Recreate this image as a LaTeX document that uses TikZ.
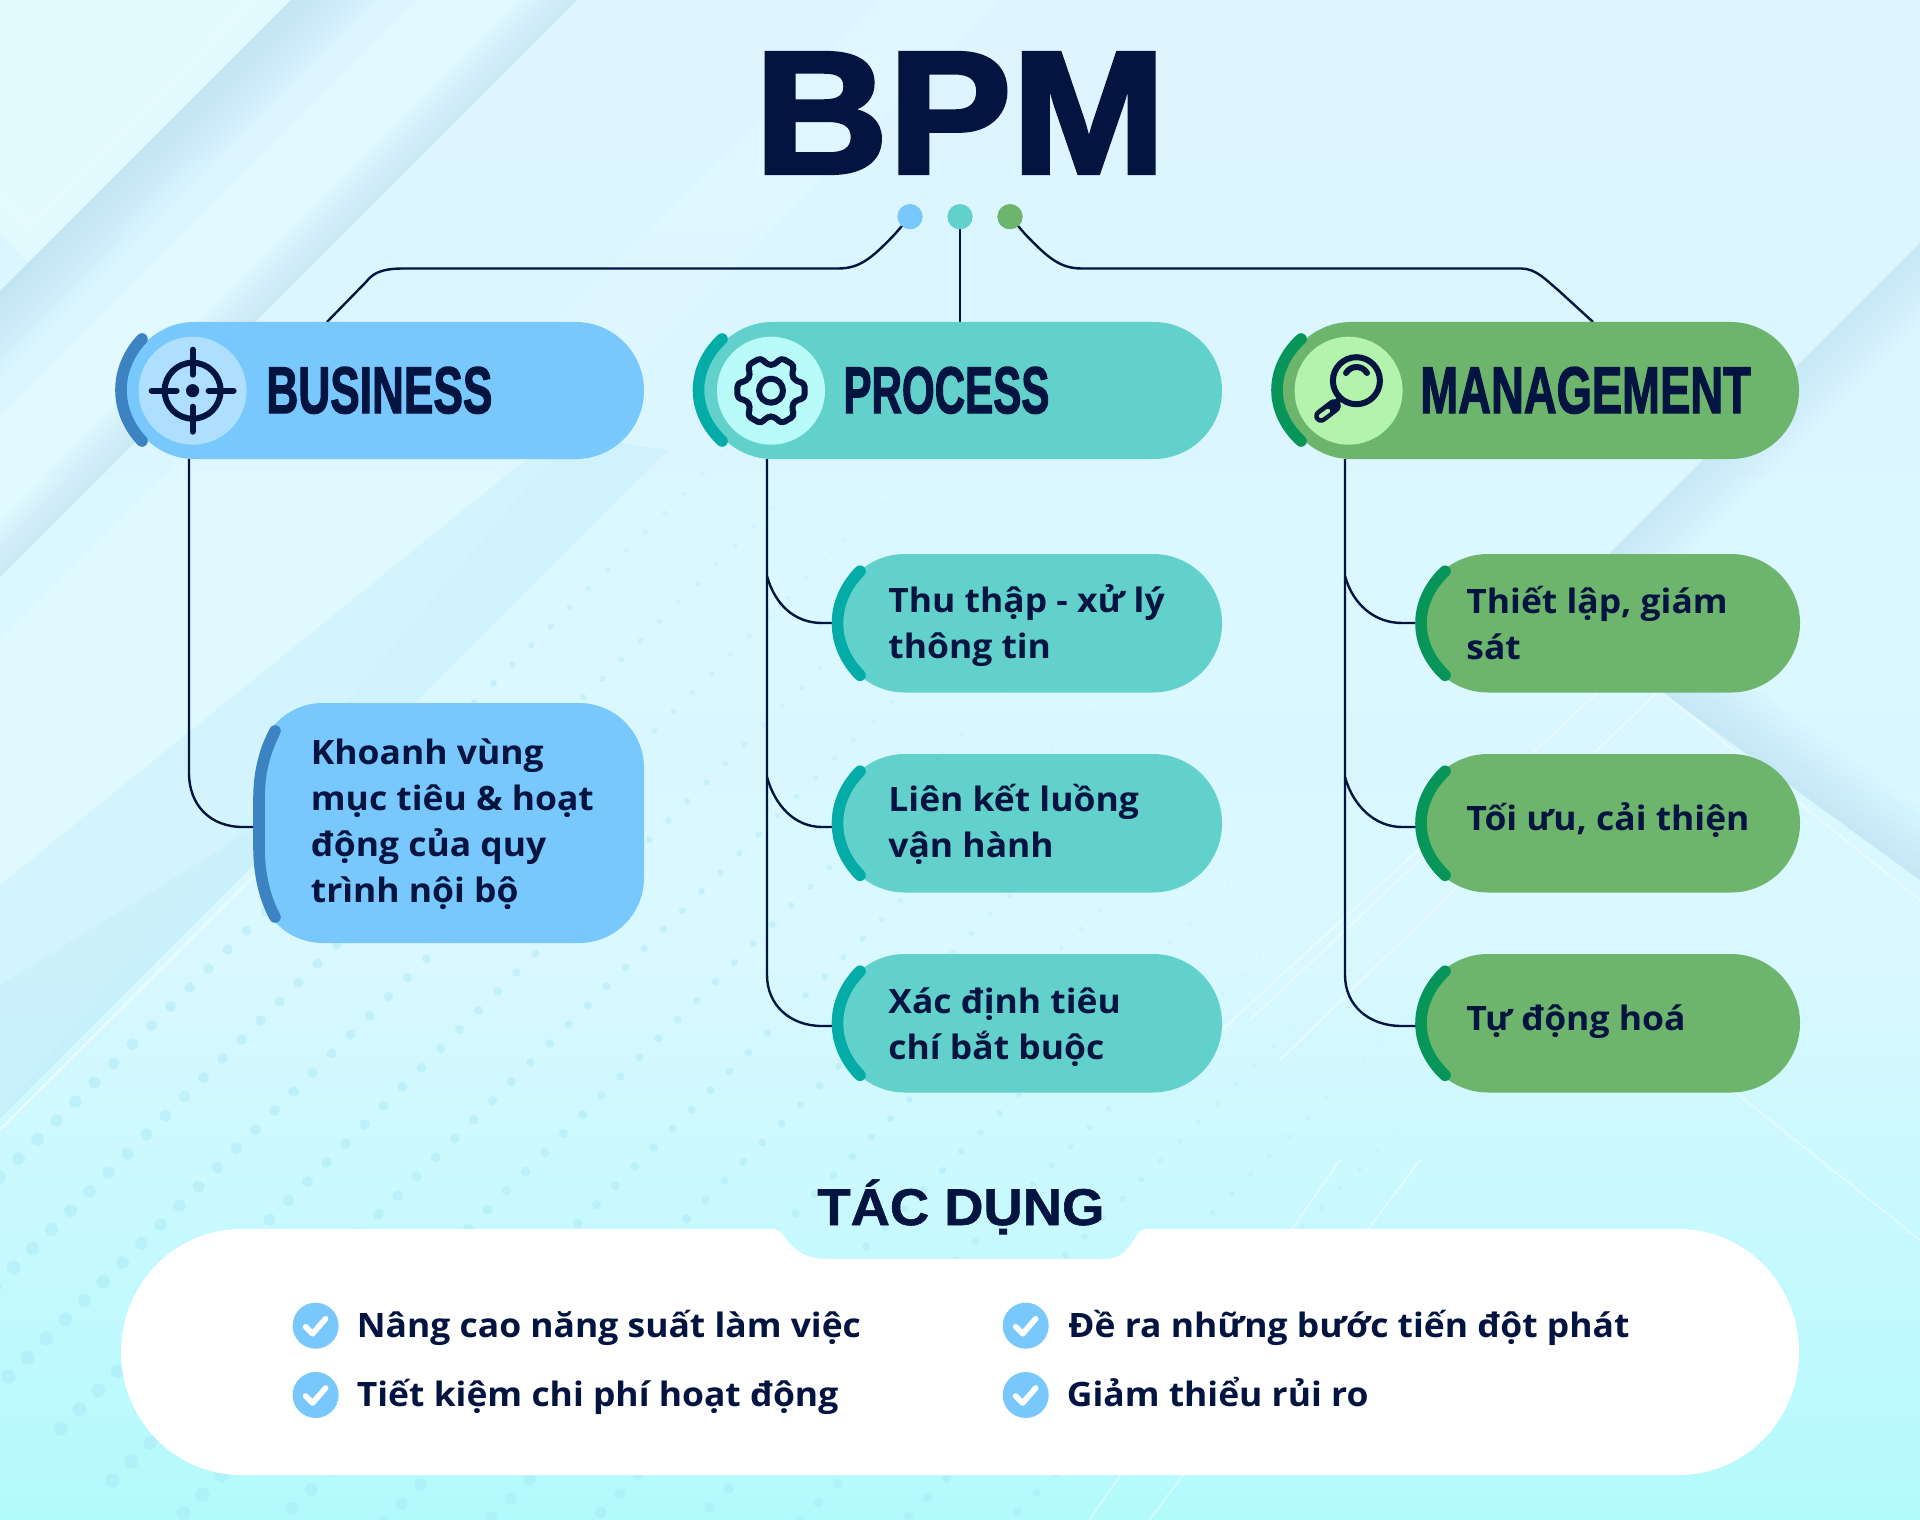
\documentclass[tikz,border=0pt]{standalone}
\usepackage{fontspec}
\usepackage{graphicx}
\setmainfont{Open Sans}[BoldFeatures={FakeStretch=1.055}]
\newfontfamily\headf{Liberation Sans}[BoldFeatures={FakeBold=2.2}]
\newfontfamily\titlef{Liberation Sans}[BoldFeatures={FakeBold=2.4}]
\newfontfamily\sectf{Liberation Sans}[BoldFeatures={FakeBold=1.1,FakeStretch=1.054}]
\definecolor{navy}{HTML}{02143F}
\definecolor{bluep}{HTML}{78C8FD}
\definecolor{bluea}{HTML}{3D82C1}
\definecolor{bluec}{HTML}{AEDFFE}
\definecolor{tealp}{HTML}{63D1CB}
\definecolor{teala}{HTML}{04ACA8}
\definecolor{tealc}{HTML}{B8FBF8}
\definecolor{greenp}{HTML}{6DB56C}
\definecolor{greena}{HTML}{08955A}
\definecolor{greenc}{HTML}{B4F3AB}
\definecolor{shadowc}{HTML}{9CCFEA}
\definecolor{lightc}{HTML}{E6FCFF}
\definecolor{dotc}{HTML}{A6E6F6}
\definecolor{bandc}{HTML}{B4E8F8}
\definecolor{bgtop}{HTML}{DCF5FF}
\definecolor{bgmid}{HTML}{DAF8FF}
\definecolor{bgbot}{HTML}{B3FAFC}
\tikzset{
  pill/.style={rectangle,inner sep=0pt,draw=none,anchor=center},
  conn/.style={draw=navy,line width=1.2pt},
  arcline/.style={line width=5.8pt,line cap=round},
  body/.style={inner sep=0pt,anchor=base west,text=navy,font=\fontsize{16.8}{23}\selectfont\bfseries},
  head/.style={inner sep=0pt,anchor=base west,text=navy},
  ico/.style={draw=navy,line width=3pt,line cap=round,line join=round},
  bullet/.style={circle,fill=bluep,inner sep=0pt,minimum size=23pt},
  tick/.style={draw=white,line width=2.8pt,line cap=round,line join=round},
  dotn/.style={circle,inner sep=0pt,minimum size=12.5pt},
  thin line/.style={white,opacity=.45,line width=.9pt},
}
\newcommand\vt[1]{\vtop{\baselineskip=23pt\lineskiplimit=-100pt\lineskip=0pt #1}}
\newcommand\larc[5]{%
  \pgfmathsetmacro\cxx{(8*#2-2*#3)/6}
  \draw[arcline,draw=#1] (#3,#4-#5) .. controls (\cxx,#4-#5*0.42) and (\cxx,#4+#5*0.42) .. (#3,#4+#5);
}
\begin{document}
\begin{tikzpicture}[x=0.5pt,y=-0.5pt]
\useasboundingbox (0,0) rectangle (1920,1519);
\clip (0,0) rectangle (1920,1519);
% background
\shade[top color=bgtop,bottom color=bgmid] (0,0) rectangle (1920,950);
\shade[top color=bgmid,bottom color=bgbot] (0,950) rectangle (1920,1519);
% top-left bright wedge
\fill[lightc,opacity=.75] (0,0) -- (291,0) -- (29,263) -- (0,232) -- cycle;
\draw[white,opacity=.5,line width=.5pt] (254,0) -- (29,226) -- (0,195);
% soft shadow beside it
\foreach \w in {8,16,...,88} {\fill[shadowc,opacity=.035] (291,0) -- (291+\w,0) -- (0,291+\w) -- (0,291) -- cycle;}
% second bright band with shadow along its right edge
\fill[lightc,opacity=.6] (417,0) -- (577,0) -- (0,577) -- (0,417) -- cycle;
\foreach \w in {6,12,...,60} {\fill[shadowc,opacity=.03] (577,0) -- (577-\w,0) -- (0,577-\w) -- (0,577) -- cycle;}
% pale upper-middle band, ending behind the first header pill
\fill[lightc,opacity=.3] (880,0) -- (1000,0) -- (600,400) -- (480,400) -- cycle;
% bright left area and darker band below it, both ending behind pills
\fill[lightc,opacity=.45] (0,640) -- (300,340) -- (600,400) -- (0,1115) -- cycle;
\fill[bandc,opacity=.28] (600,440) -- (668,450) -- (0,1118) -- (0,885) -- (525,460) -- cycle;
\fill[bandc,opacity=.22] (350,768) -- (0,1118) -- (0,985) -- (350,770) -- cycle;
\draw[white,opacity=.55,line width=1.2pt] (350,780) -- (0,1130);
% right side bands
\foreach \w in {8,16,...,80} {\fill[shadowc,opacity=.03] (1920,243) -- (1920,243+\w) -- (1560,603+\w) -- (1560,603) -- cycle;}
\foreach \w in {8,16,...,72} {\fill[shadowc,opacity=.035] (1659,690) -- (1920,880) -- (1920,880-\w) -- (1659,690-\w) -- cycle;}
\draw[thin line] (1659,690) -- (1920,900);
\draw[thin line] (1659,690) -- (1280,1060);
\draw[thin line] (1600,690) -- (1250,1020);
\draw[thin line] (1440,830) -- (1200,1050);
\draw[thin line] (1720,1080) -- (1920,1240);
\draw[thin line] (1150,1519) -- (1420,1160);
\draw[thin line] (1090,1519) -- (1340,1160);
% dot rows
\foreach \n in {0,...,13} {
  \pgfmathsetmacro\kk{1177+104*\n}
  \foreach \u in {380,342,...,-1400} {
    \pgfmathsetmacro\dx{(\kk+\u)/2}
    \pgfmathsetmacro\dy{(\kk-\u)/2}
    \pgfmathsetmacro\dr{max(1.3,3.5-(\u+223)*0.0032)}
    \pgfmathsetmacro\dop{min(.42,.12+(380-\u)*0.0005)}
    \fill[dotc,opacity=\dop] (\dx,\dy) circle[radius=\dr];
  }
}
% connector anchor points
\coordinate (bizTop) at (327,322);
\coordinate (mgtTop) at (1593,322);
\coordinate (prcTop) at (960,322);
\node[dotn,fill=bluep] (d1) at (910,216.7) {};
\node[dotn,fill=tealp] (d2) at (960,216.7) {};
\node[dotn,fill=greenp] (d3) at (1010,216.7) {};
\draw[conn] (d1.center) -- (895,234) .. controls (872,258) and (860,268.5) .. (838,268.5) -- (405,268.5) .. controls (388,268.5) and (375,270) .. (366,282) -- (bizTop);
\draw[conn] (d2.center) -- (prcTop);
\draw[conn] (d3.center) -- (1025,234) .. controls (1048,258) and (1060,268.5) .. (1082,268.5) -- (1521,268.5) .. controls (1536,268.5) and (1546,280) .. (1558,290) -- (mgtTop);
\node[dotn,fill=bluep] at (d1) {};
\node[dotn,fill=tealp] at (d2) {};
\node[dotn,fill=greenp] at (d3) {};
% named end points of the drops
\coordinate (bizDrop) at (189,459);
\coordinate (prcDrop) at (767,459);
\coordinate (mgtDrop) at (1345,459);
\coordinate (bizSub) at (253,827);
\foreach \y/\nm in {623/pa,827/pb,1026/pc} {\coordinate (\nm) at (834,\y);}
\foreach \y/\nm in {623/ma,827/mb,1026/mc} {\coordinate (\nm) at (1417,\y);}
\draw[conn] (bizDrop) -- (189,773) .. controls (189,805) and (210,827) .. (243,827) -- (bizSub);
\draw[conn] (prcDrop) -- (767,975) .. controls (767,1005) and (790,1026) .. (822,1026) -- (pc);
\draw[conn] (767,576) .. controls (775,605) and (795,623) .. (822,623) -- (pa);
\draw[conn] (767,777) .. controls (775,806) and (795,827) .. (822,827) -- (pb);
\draw[conn] (mgtDrop) -- (1345,975) .. controls (1345,1005) and (1368,1026) .. (1402,1026) -- (mc);
\draw[conn] (1345,576) .. controls (1353,605) and (1375,623) .. (1402,623) -- (ma);
\draw[conn] (1345,777) .. controls (1353,806) and (1375,827) .. (1402,827) -- (mb);
% title
\node[head,font=\titlef\bfseries] (title) at (754,173) {\resizebox{205.7pt}{60pt}{BPM}};
% header pills
\node[pill,fill=bluep,minimum width=259pt,minimum height=68.5pt,rounded corners=34.2pt] (biz) at (385,390.5) {};
\node[pill,fill=tealp,minimum width=259pt,minimum height=68.5pt,rounded corners=34.2pt] (prc) at (963,390.5) {};
\node[pill,fill=greenp,minimum width=258.25pt,minimum height=68.5pt,rounded corners=34.2pt] (mgt) at (1540.75,390.5) {};
\larc{bluea}{121}{142}{390}{51}
\larc{teala}{698.5}{722}{390}{51}
\larc{greena}{1277}{1301}{390}{51}
\node[circle,fill=bluec,minimum size=54pt,inner sep=0pt] (ic1) at (192.6,390.7) {};
\node[circle,fill=tealc,minimum size=54pt,inner sep=0pt] (ic2) at (771,390.7) {};
\node[circle,fill=greenc,minimum size=54pt,inner sep=0pt] (ic3) at (1348.6,390.7) {};
\node[head,font=\headf\bfseries] (h1) at (266,413) {\resizebox{113pt}{23pt}{BUSINESS}};
\node[head,font=\headf\bfseries] (h2) at (843,413) {\resizebox{103pt}{23pt}{PROCESS}};
\node[head,font=\headf\bfseries] (h3) at (1420,413) {\resizebox{165.2pt}{23pt}{MANAGEMENT}};
% target icon
\begin{scope}[shift={(192.6,390.7)}]
  \draw[ico] (0,0) circle[radius=28];
  \fill[navy] (0,0) circle[radius=6.6];
  \draw[ico] (-41,0) -- (-16,0) (16,0) -- (41,0) (0,-41) -- (0,-16) (0,16) -- (0,41);
\end{scope}
% gear icon
\begin{scope}[shift={(771,390.7)}]
  \draw[ico,rounded corners=2pt] (-22:26)
    -- (-13:34.5) -- (13:34.5) -- (22:26)
    -- (38:26) -- (47:34.5) -- (73:34.5) -- (82:26)
    -- (98:26) -- (107:34.5) -- (133:34.5) -- (142:26)
    -- (158:26) -- (167:34.5) -- (193:34.5) -- (202:26)
    -- (218:26) -- (227:34.5) -- (253:34.5) -- (262:26)
    -- (278:26) -- (287:34.5) -- (313:34.5) -- (322:26)
    -- cycle;
  \draw[ico] (0,0) circle[radius=12];
\end{scope}
% magnifier icon
\draw[ico] (1356.4,380.7) circle[radius=23.5];
\draw[ico] (1346,373) .. controls (1351,365) and (1362,365) .. (1367,373);
\draw[ico] (1340,398) -- (1335,405);
\draw[navy,line width=6.8pt,line cap=round] (1321,416) -- (1334,406);
\draw[greenc,line width=2.2pt,line cap=round] (1321,416) -- (1328,411);
% sub pills
\node[pill,fill=bluep,minimum width=193pt,minimum height=120pt,rounded corners=32.5pt] (s1) at (451,823) {};
\draw[arcline,draw=bluea] (275,731) .. controls (263,755) and (259,775) .. (259,800) -- (259,846) .. controls (259,870) and (263,895) .. (275,917);
\foreach \y/\nm in {623.25/a,823.25/b,1023.25/c} {
  \node[pill,fill=tealp,minimum width=193pt,minimum height=69.25pt,rounded corners=34.5pt] (t\nm) at (1029,\y) {};
  \larc{teala}{837.5}{860}{\y}{52}
  \node[pill,fill=greenp,minimum width=190.5pt,minimum height=69.25pt,rounded corners=34.5pt] (g\nm) at (1609.5,\y) {};
  \larc{greena}{1421}{1445}{\y}{52}
}
\node[body] (x1) at (310.5,764) {\vt{\hbox{Khoanh vùng}\hbox{mục tiêu \& hoạt}\hbox{động của quy}\hbox{trình nội bộ}}};
\node[body] (x2) at (888,612) {\vt{\hbox{Thu thập - xử lý}\hbox{thông tin}}};
\node[body] (x3) at (888,811) {\vt{\hbox{Liên kết luồng}\hbox{vận hành}}};
\node[body] (x4) at (888,1013) {\vt{\hbox{Xác định tiêu}\hbox{chí bắt buộc}}};
\node[body] (x5) at (1466,613) {\vt{\hbox{Thiết lập, giám}\hbox{sát}}};
\node[body] (x6) at (1466,830) {Tối ưu, cải thiện};
\node[body] (x7) at (1466,1030) {Tự động hoá};
% benefits panel
\fill[white] (241,1229) -- (775,1229) .. controls (785,1229) and (788,1259) .. (827,1259) -- (1105,1259) .. controls (1132,1259) and (1134,1229) .. (1145,1229) -- (1679,1229) .. controls (1745,1229) and (1799,1284) .. (1799,1352) .. controls (1799,1420) and (1745,1475) .. (1679,1475) -- (241,1475) .. controls (175,1475) and (121,1420) .. (121,1352) .. controls (121,1284) and (175,1229) .. (241,1229) -- cycle;
\node[head,font=\sectf\bfseries\fontsize{25.8}{30}\selectfont] (sec) at (817,1225) {TÁC DỤNG};
\foreach \x/\y/\nm in {315.6/1325.7/c1,315.6/1395/c2,1025.7/1325.7/c3,1025.7/1395/c4} {
  \node[bullet] (\nm) at (\x,\y) {};
  \draw[tick] (\x-10,\y+1) -- (\x-3,\y+8) -- (\x+10,\y-7);
}
\node[body] (b1) at (356.5,1337.5) {Nâng cao năng suất làm việc};
\node[body] (b2) at (356.5,1406.5) {Tiết kiệm chi phí hoạt động};
\node[body] (b3) at (1068,1337.5) {Đề ra những bước tiến đột phát};
\node[body] (b4) at (1066.5,1406.5) {Giảm thiểu rủi ro};
\end{tikzpicture}
\end{document}
